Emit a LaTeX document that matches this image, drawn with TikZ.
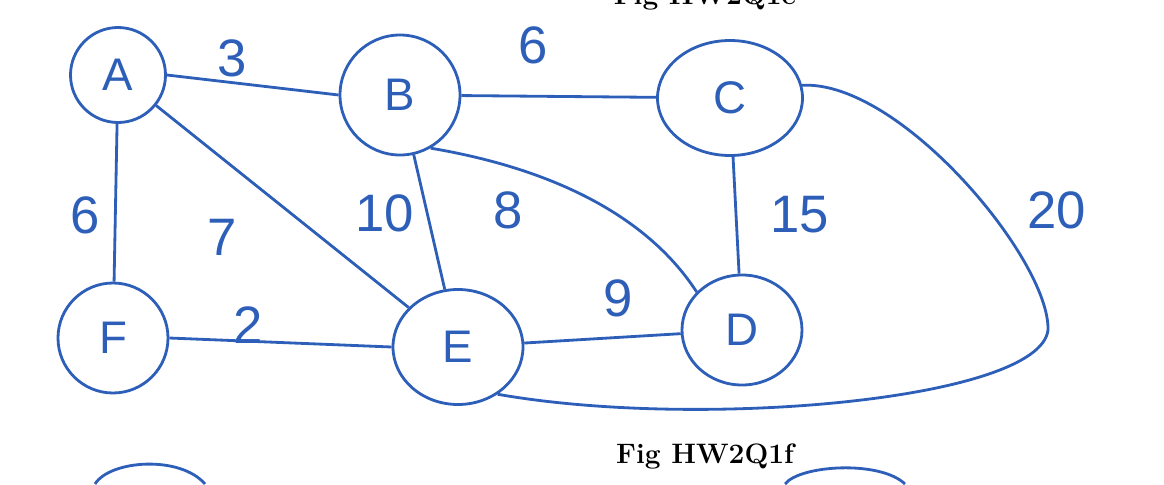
\documentclass[tikz,border=0pt]{standalone}
\usepackage{fontspec}
\setmainfont{Liberation Sans}
\newfontfamily\lmr{Latin Modern Roman}
\usetikzlibrary{shapes.geometric}
\definecolor{pen}{RGB}{45,95,185}
\begin{document}
\begin{tikzpicture}[x=0.02cm,y=-0.02cm,
  edge/.style={draw=pen,line width=1.6pt},
  vt/.style={draw=pen,line width=1.6pt,text=pen,font=\fontsize{26}{26}\selectfont,inner sep=0pt},
  wt/.style={text=pen,font=\fontsize{30}{30}\selectfont},
  figcap/.style={font=\lmr\bfseries\fontsize{16}{16}\selectfont}]
\useasboundingbox (0,0) rectangle (1164,484);
\node[vt,circle,minimum size=95*0.02cm] (A) at (118,75) {A};
\node[vt,circle,minimum size=120*0.02cm] (B) at (400,95) {B};
\node[vt,ellipse,minimum width=145*0.02cm,minimum height=115*0.02cm] (C) at (730,98) {C};
\node[vt,circle,minimum size=110*0.02cm] (F) at (113,338) {F};
\node[vt,ellipse,minimum width=130*0.02cm,minimum height=115*0.02cm] (E) at (458,347) {E};
\node[vt,ellipse,minimum width=120*0.02cm,minimum height=110*0.02cm] (D) at (742,330) {D};
\draw[edge] (A.east) -- (B.west);
\draw[edge] (B) -- (C);
\draw[edge] (A) -- (F);
\draw[edge] (A) -- (E);
\draw[edge] (B) -- (E);
\draw[edge] (B.-60) .. controls (560,170) and (650,220) .. (D.140);
\draw[edge] (C) -- (D);
\draw[edge] (F.east) -- (E.west);
\draw[edge] (E) -- (D);
\draw[edge] (C.10) .. controls (900,80) and (1050,260) .. (1048,330) .. controls (1040,400) and (700,430) .. (E.-50);
\node[wt] (w1) at (232,58) {3};
\node[wt] (w2) at (533,45) {6};
\node[wt] (w3) at (85,215) {6};
\node[wt] (w4) at (222,237) {7};
\node[wt] (w5) at (385,213) {10};
\node[wt] (w6) at (508,210) {8};
\node[wt] (w7) at (800,215) {15};
\node[wt] (w8) at (248,325) {2};
\node[wt] (w9) at (618,298) {9};
\node[wt] (w10) at (1057,210) {20};
\node[figcap] (f1) at (705,-2) {Fig HW2Q1e};
\node[figcap] (f2) at (705,456) {Fig HW2Q1f};
\draw[edge] (95,484) .. controls (110,460) and (180,455) .. (205,484);
\draw[edge] (785,484) .. controls (800,465) and (880,460) .. (905,484);
\end{tikzpicture}
\end{document}
